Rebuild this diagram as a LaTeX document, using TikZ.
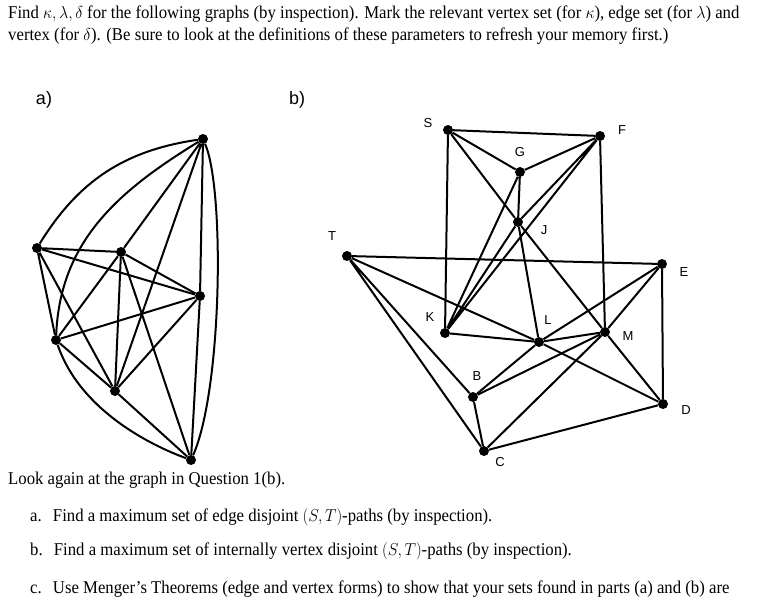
\documentclass[tikz,border=0pt]{standalone}
\usepackage{fontspec}
\setmainfont{Liberation Serif}
\setsansfont{Liberation Sans}
\usepackage{amsmath}
\begin{document}
\begin{tikzpicture}[x=1pt,y=-1pt,
  v/.style={circle,fill=black,inner sep=0pt,minimum size=10pt},
  e/.style={line width=2pt},
  lab/.style={font=\sffamily\fontsize{13}{13}\selectfont},
  txt/.style={anchor=west,inner sep=0pt,font=\fontsize{18}{18}\selectfont}]
\useasboundingbox (0,0) rectangle (757,600);
\node[txt] (t1) at (8,14) {\scalebox{0.93}[1]{Find $\kappa,\lambda,\delta$ for the following graphs (by inspection). Mark the relevant vertex set (for $\kappa$), edge set (for $\lambda$) and}};
\node[txt] (t2) at (8,36) {\scalebox{0.93}[1]{vertex (for $\delta$). (Be sure to look at the definitions of these parameters to refresh your memory first.)}};
\node[lab,font=\sffamily\fontsize{18}{18}\selectfont] (la) at (44,100) {a)};
\node[lab,font=\sffamily\fontsize{18}{18}\selectfont] (lb) at (297,100) {b)};
% graph a
\node[v] (p) at (203,139) {};
\node[v] (a1) at (37,248) {};
\node[v] (a2) at (121,252) {};
\node[v] (a3) at (200,296) {};
\node[v] (a4) at (56,340) {};
\node[v] (a5) at (115,391) {};
\node[v] (q) at (191,460) {};
\draw[e] (p) to[bend right=25] (a1);
\draw[e] (p) .. controls (120,190) and (60,240) .. (a4);
\draw[e] (p) -- (a2) (p) -- (a5) (p) -- (a3) (a3) -- (q);
\draw[e] (p) .. controls (225,190) and (222,390) .. (q);
\draw[e] (a1)--(a2) (a1)--(a3) (a1)--(a4) (a1)--(a5);
\draw[e] (a2)--(a4) (a2)--(a5) (a2)--(a3) (a2)--(q);
\draw[e] (a4)--(a3) (a4)--(a5) (a5)--(a3) (a5)--(q);
\draw[e] (a4) .. controls (80,410) and (150,445) .. (q);
% graph b
\node[v] (S) at (448,130) {};
\node[v] (F) at (600,136) {};
\node[v] (G) at (520,172) {};
\node[v] (J) at (518,222) {};
\node[v] (T) at (347,256) {};
\node[v] (E) at (662,264) {};
\node[v] (K) at (445,333) {};
\node[v] (L) at (539,342) {};
\node[v] (M) at (605,332) {};
\node[v] (B) at (473,397) {};
\node[v] (D) at (663,404) {};
\node[v] (C) at (484,451) {};
\draw[e] (S)--(F) (S)--(K) (S)--(G) (S)--(J) (J)--(M);
\draw[e] (G)--(F) (G)--(J) (G)--(K) (F)--(J) (F)--(K) (J)--(K) (F)--(M) (J)--(L);
\draw[e] (T)--(E) (T)--(L) (T)--(B) (T)--(C);
\draw[e] (K)--(L) (L)--(M) (L)--(E) (L)--(B) (L)--(D);
\draw[e] (M)--(E) (M)--(B) (M)--(C) (M)--(D) (E)--(D) (B)--(C) (C)--(D);
\node[lab] (lS) at (428,123) {S};
\node[lab] (lF) at (622,130) {F};
\node[lab] (lG) at (520,152) {G};
\node[lab] (lJ) at (544,230) {J};
\node[lab] (lT) at (332,236) {T};
\node[lab] (lE) at (684,272) {E};
\node[lab] (lK) at (430,317) {K};
\node[lab] (lL) at (548,320) {L};
\node[lab] (lM) at (628,336) {M};
\node[lab] (lB) at (477,376) {B};
\node[lab] (lD) at (686,410) {D};
\node[lab] (lC) at (500,462) {C};
% bottom text
\node[txt] (b0) at (8,480) {\scalebox{0.93}[1]{Look again at the graph in Question 1(b).}};
\node[txt] (b1) at (30,517) {\scalebox{0.93}[1]{a.\hspace{12pt}Find a maximum set of edge disjoint $(S,T)$-paths (by inspection).}};
\node[txt] (b2) at (30,551) {\scalebox{0.93}[1]{b.\hspace{12pt}Find a maximum set of internally vertex disjoint $(S,T)$-paths (by inspection).}};
\node[txt] (b3) at (30,589) {\scalebox{0.93}[1]{c.\hspace{12pt}Use Menger's Theorems (edge and vertex forms) to show that your sets found in parts (a) and (b) are}};
\end{tikzpicture}
\end{document}
